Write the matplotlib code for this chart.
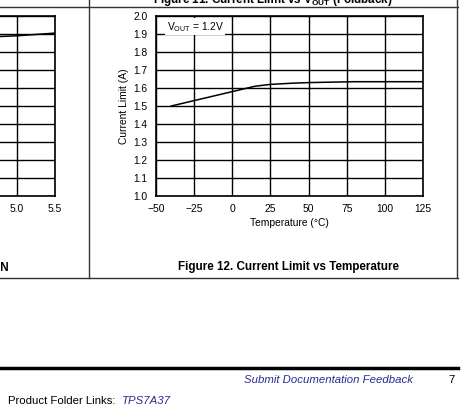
import matplotlib
matplotlib.use("Agg")
import matplotlib.pyplot as plt

temp = [-40, -25, -10, 0, 15, 25, 40, 50, 80, 125]
ilim = [1.50, 1.53, 1.56, 1.58, 1.61, 1.62, 1.627, 1.63, 1.635, 1.635]
vin = [4.6, 5.0, 5.5]
ilim_left = [1.883, 1.89, 1.905]

W, H = 474, 417
fig = plt.figure(figsize=(W/100, H/100), dpi=100)
fig.patch.set_facecolor("white")
def fx(p): return p / W
def fy(p): return 1 - p / H

font = "Liberation Sans"
fs = 7.4

# right chart
ax = fig.add_axes([fx(156), fy(196), fx(267), (196-16)/H])
ax.plot(temp, ilim, color="black", lw=1.1)
ax.set_xlim(-50, 125); ax.set_ylim(1.0, 2.0)
ax.set_xticks(range(-50, 126, 25))
ax.set_xticklabels(["\u221250", "\u221225", "0", "25", "50", "75", "100", "125"], fontsize=fs, family=font)
ax.set_yticks([1.0 + 0.1*i for i in range(11)])
ax.set_yticklabels([f"{1.0+0.1*i:.1f}" for i in range(11)], fontsize=fs, family=font)
ax.grid(True, color="black", lw=1.0)
ax.tick_params(length=0, pad=6)
for s in ax.spines.values(): s.set_linewidth(1.2)
ax.set_xlabel("Temperature (°C)", fontsize=fs, family=font, labelpad=3)
ax.set_ylabel("Current Limit (A)", fontsize=fs, family=font, labelpad=3)
ax.text(-43, 1.94, r"V$_{\mathregular{OUT}}$ = 1.2V", fontsize=fs, family=font, va="center",
        bbox=dict(facecolor="white", edgecolor="none", pad=1))

# left partial chart
ax2 = fig.add_axes([fx(55-380), fy(196), fx(380), (196-16)/H])
ax2.plot(vin, ilim_left, color="black", lw=1.1)
ax2.set_xlim(0.5, 5.5); ax2.set_ylim(1.0, 2.0)
ax2.set_xticks([0.5*i for i in range(1, 12)])
ax2.set_xticklabels([f"{0.5*i:.1f}" for i in range(1, 12)], fontsize=fs, family=font)
ax2.set_yticks([1.0 + 0.1*i for i in range(11)])
ax2.set_yticklabels([])
ax2.grid(True, color="black", lw=1.0)
ax2.tick_params(length=0, pad=6)
for s in ax2.spines.values(): s.set_linewidth(1.2)

# panel borders and footer
lines = [((89, 89), (0, 278)), ((0, 458), (7, 7)), ((457, 457), (0, 278)), ((0, 458), (278, 278))]
for xs, ys in lines:
    fig.add_artist(plt.Line2D([fx(xs[0]), fx(xs[1])], [fy(ys[0]), fy(ys[1])], color="#333333", lw=1.0))
fig.add_artist(plt.Line2D([0, fx(458)], [fy(368), fy(368)], color="black", lw=2.5))

fig.text(fx(273), fy(0), r"Figure 11. Current Limit vs V$_{\mathregular{OUT}}$ (Foldback)", fontsize=8.4,
         weight="bold", family=font, ha="center", va="center")
fig.text(fx(288), fy(267), "Figure 12. Current Limit vs Temperature", fontsize=8.4,
         weight="bold", family=font, ha="center", va="center")
fig.text(fx(9), fy(268), "Figure 10. Current Limit vs VIN", fontsize=8.4,
         weight="bold", family=font, ha="right", va="center")
fig.text(fx(413), fy(380), "Submit Documentation Feedback", fontsize=8.2, style="italic",
         color="#2b2b8f", family=font, ha="right", va="center")
fig.text(fx(455), fy(380), "7", fontsize=8.2, family=font, ha="right", va="center")
fig.text(fx(8), fy(401), "Product Folder Links:", fontsize=8.2, family=font, ha="left", va="center")
fig.text(fx(122), fy(401), "TPS7A37", fontsize=8.2, style="italic", color="#2b2b8f",
         family=font, ha="left", va="center")

fig.savefig("out.png", dpi=100)
